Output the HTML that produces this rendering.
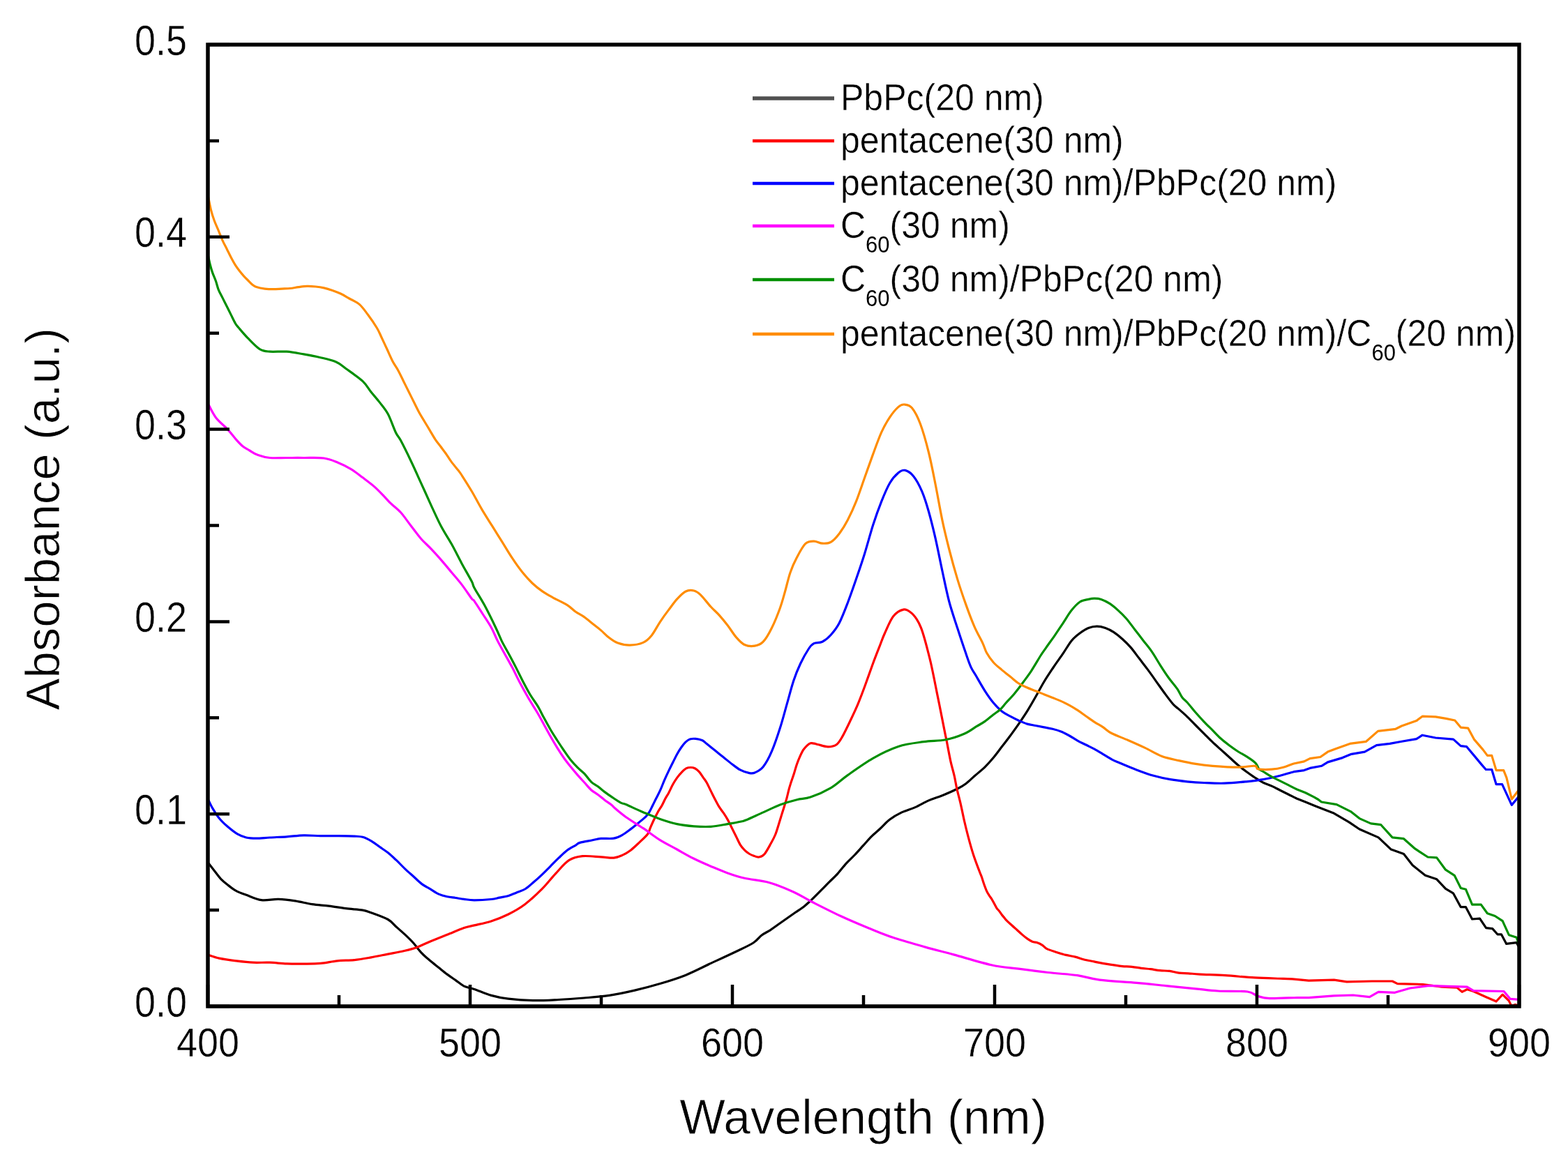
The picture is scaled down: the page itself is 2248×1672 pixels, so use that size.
<!DOCTYPE html>
<html><head><meta charset="utf-8"><title>Absorbance spectra</title>
<style>
html,body{margin:0;padding:0;background:#fff;}
body{width:2248px;height:1672px;overflow:hidden;}
svg{display:block;}
text{font-family:"Liberation Sans",Arial,Helvetica,sans-serif;fill:#000;}
.t{stroke:#fff;stroke-width:0.4px;paint-order:fill stroke;}
.u{stroke:#fff;stroke-width:0.4px;paint-order:fill stroke;}
.w{stroke:#fff;stroke-width:0.8px;paint-order:fill stroke;}
.s{stroke:none;}
</style></head><body>
<svg width="2248" height="1672" viewBox="0 0 2248 1672">
<rect x="0" y="0" width="2248" height="1672" fill="#fff"/>
<defs><clipPath id="pa"><rect x="298" y="64" width="1880" height="1379"/></clipPath></defs>

<g clip-path="url(#pa)" fill="none" stroke-width="3.2" stroke-linejoin="round" stroke-linecap="round">
<path stroke="#000000" d="M298.5,1237.3C299.9,1239.1 304,1244.4 307,1248.2C310,1252 313.4,1256.9 316.6,1260.3C319.8,1263.7 322.7,1266 326.3,1268.8C329.9,1271.6 333.9,1274.9 338.4,1277.3C342.8,1279.7 346.9,1281.1 353,1283.3C359.1,1285.5 367,1289.6 374.7,1290.6C382.4,1291.6 390.9,1289.2 399,1289.4C407.1,1289.6 415.1,1290.6 423.2,1291.8C431.3,1293 439.3,1295.5 447.4,1296.7C455.5,1297.9 463.5,1298.1 471.6,1299.1C479.7,1300.1 487.7,1301.7 495.8,1302.7C503.9,1303.7 514,1304.1 520,1305.1C526,1306.1 526.1,1306.6 532.1,1308.8C538.1,1311 550.2,1315.1 556.3,1318.5C562.3,1321.9 564.3,1325.7 568.4,1329.3C572.5,1332.9 576.5,1336.4 580.6,1340.2C584.7,1344 588.7,1347.8 592.7,1352.3C596.7,1356.8 600.8,1362.7 604.8,1366.9C608.8,1371.2 612.9,1374.4 616.9,1377.8C620.9,1381.2 625,1384.3 629,1387.5C633,1390.7 637.1,1394.1 641.1,1397.1C645.1,1400.1 649.2,1402.8 653.2,1405.6C657.2,1408.4 660.8,1411.9 665.3,1414.1C669.8,1416.2 673.5,1416.3 680,1418.5C686.5,1420.7 696.1,1425.1 704.2,1427.4C712.3,1429.7 718.3,1431 728.4,1432.2C738.5,1433.4 752.6,1434.5 764.7,1434.7C776.8,1434.9 789,1434.1 801.1,1433.5C813.2,1432.9 825.3,1432 837.4,1431C849.5,1430 861.6,1429.2 873.7,1427.4C885.8,1425.6 897.9,1422.9 910,1420.1C922.1,1417.3 934.2,1414.1 946.3,1410.5C958.4,1406.9 970.6,1403.2 982.7,1398.4C994.8,1393.6 1006.9,1387.1 1019,1381.4C1031.1,1375.8 1045.1,1369.4 1055.3,1364.5C1065.5,1359.6 1073.9,1355.9 1080,1352C1086.1,1348.1 1088.1,1344 1092.1,1341C1096.1,1338 1100.2,1336.4 1104.2,1333.8C1108.2,1331.2 1112.3,1328.1 1116.3,1325.3C1120.3,1322.5 1124.4,1319.6 1128.4,1316.8C1132.4,1314 1136.5,1311.1 1140.5,1308.3C1144.5,1305.5 1149,1302.7 1152.6,1299.9C1156.2,1297.1 1158.2,1295.2 1162.3,1291.4C1166.3,1287.6 1172.5,1281.4 1176.9,1276.9C1181.4,1272.5 1185,1268.8 1189,1264.7C1193,1260.7 1197.1,1257 1201.1,1252.6C1205.1,1248.2 1209.2,1242.5 1213.2,1238.1C1217.2,1233.7 1221.3,1230.2 1225.3,1226C1229.3,1221.8 1233.4,1217.1 1237.4,1212.7C1241.4,1208.3 1245.5,1203.4 1249.5,1199.4C1253.5,1195.4 1257.2,1192.6 1261.6,1188.5C1266,1184.4 1270.6,1178.9 1275.8,1175C1281,1171.1 1286.8,1167.8 1292.8,1164.9C1298.8,1162 1305.6,1160.4 1312.1,1157.6C1318.5,1154.8 1325,1150.7 1331.5,1147.9C1338,1145.1 1344,1143.5 1350.9,1140.7C1357.8,1137.9 1367.1,1133.8 1372.7,1131C1378.3,1128.2 1380.8,1126.7 1384.8,1123.7C1388.8,1120.7 1392.4,1117 1396.9,1113C1401.5,1109 1407.5,1104.2 1412.1,1099.8C1416.6,1095.4 1420.2,1091.3 1424.2,1086.5C1428.2,1081.7 1432.3,1076 1436.3,1070.8C1440.3,1065.5 1444.4,1060.5 1448.4,1055C1452.4,1049.5 1456.5,1043.9 1460.5,1038.1C1464.5,1032.2 1468.6,1026.4 1472.6,1019.9C1476.6,1013.4 1480.7,1006.4 1484.7,999.3C1488.8,992.2 1492.6,984.6 1496.9,977.5C1501.2,970.4 1506,963.3 1510.5,956.5C1515,949.7 1519.9,943.2 1524.2,936.9C1528.5,930.6 1532.3,923.6 1536.3,918.7C1540.3,913.9 1544.4,910.8 1548.4,907.8C1552.4,904.8 1556.5,902.1 1560.5,900.5C1564.5,898.9 1568.6,898.1 1572.6,898.1C1576.6,898.1 1580.7,899.1 1584.7,900.5C1588.8,901.9 1592.9,904 1596.9,906.6C1601,909.2 1605,912.7 1609,916.3C1613,919.9 1617.1,923.8 1621.1,928.4C1625.1,933 1629.2,938.9 1633.2,944.1C1637.2,949.4 1641.3,954.5 1645.3,959.9C1649.3,965.3 1653.4,971.1 1657.4,976.8C1661.4,982.4 1665.5,988.3 1669.5,993.8C1673.5,999.2 1678.2,1005.6 1681.6,1009.5C1685,1013.4 1686.6,1013.9 1690,1016.9C1693.4,1019.9 1698.1,1023.9 1702.1,1027.8C1706.1,1031.6 1710.2,1036 1714.2,1040C1718.2,1044 1722.3,1048.1 1726.3,1052.1C1730.3,1056.1 1734.4,1060.4 1738.4,1064.2C1742.4,1068 1746.5,1071.5 1750.5,1075.1C1754.5,1078.7 1758.6,1082.4 1762.6,1086C1766.6,1089.6 1770.7,1093.5 1774.7,1096.9C1778.8,1100.3 1782.9,1103.5 1786.9,1106.5C1791,1109.5 1795,1112.4 1799,1115C1803,1117.6 1807.1,1120.3 1811.1,1122.3C1815.1,1124.3 1819.2,1125.3 1823.2,1127.1C1827.2,1128.9 1831.3,1131.2 1835.3,1133.2C1839.3,1135.2 1843.4,1137.2 1847.4,1139.2C1851.4,1141.2 1855.5,1143.5 1859.5,1145.3L1871.6,1150.1L1883.7,1155L1890,1157.4L1912.6,1166.3L1934.4,1179.1L1949,1189L1976.2,1200.9L1994.4,1218.1L2012.5,1224.5L2025.2,1240.8L2043.4,1255.3L2059.8,1260.8L2072.5,1274.4L2083.4,1280.8L2094.3,1300.7L2101.5,1300.7L2110.6,1318L2121.5,1317.1L2130.6,1330.7L2139.7,1331.6L2146.9,1339.8L2152.4,1339.8L2159.7,1353.4L2174.2,1351.6L2178,1358.9"/>
<path stroke="#ff0000" d="M298.5,1369.3C301.1,1370.1 307.6,1372.7 314.2,1374.1C320.8,1375.5 330.3,1376.8 338.4,1377.8C346.5,1378.8 354.5,1379.8 362.6,1380.2C370.7,1380.6 378.8,1379.9 386.9,1380.2C395,1380.5 402.9,1381.6 411,1381.9C419.1,1382.2 427.2,1382.2 435.3,1382.1C443.4,1382 451.4,1382.1 459.5,1381.4C467.6,1380.7 475.6,1378.6 483.7,1377.8C491.8,1377 499.8,1377.4 507.9,1376.6C516,1375.8 524,1374.3 532.1,1372.9C540.2,1371.5 548.2,1369.7 556.3,1368.1C564.4,1366.5 573.7,1364.8 580.6,1363.2C587.5,1361.6 591.5,1360.6 597.5,1358.4C603.5,1356.2 609.6,1352.9 616.9,1349.9C624.2,1346.9 633,1343.4 641.1,1340.2C649.2,1337 658.8,1332.8 665.3,1330.6C671.8,1328.4 673.5,1328.5 680,1326.9C686.5,1325.3 696.1,1323.5 704.2,1320.9C712.3,1318.3 720.3,1315.2 728.4,1311.2C736.5,1307.2 744.5,1302.8 752.6,1296.7C760.7,1290.7 769.6,1282.2 776.9,1274.9C784.2,1267.6 789.8,1260 796.2,1253.1C802.7,1246.2 809.1,1237.9 815.6,1233.7C822.1,1229.5 827.3,1228.5 835,1227.7C842.7,1226.9 854.1,1228.5 861.6,1228.9C869.1,1229.3 874.9,1230.5 880,1230.1C885.1,1229.7 888.1,1228.2 892.1,1226.4C896.1,1224.6 900.2,1222.2 904.2,1219.2C908.2,1216.2 912.3,1212.1 916.3,1208.3C920.3,1204.5 925.8,1199.6 928.4,1196.2C931,1192.8 930.7,1190.9 932.1,1187.7C933.5,1184.5 935.1,1180.6 936.9,1176.8C938.7,1173 941,1168.3 943,1164.7C945,1161.1 947.2,1158.2 949,1155C950.8,1151.8 952.2,1148.3 953.8,1145.3C955.4,1142.3 956.9,1140.3 958.7,1136.9C960.5,1133.5 962.7,1128.3 964.7,1124.7C966.7,1121.1 968.8,1117.9 970.8,1115.1C972.8,1112.3 974.7,1110 976.9,1107.8C979.1,1105.6 981.9,1102.9 984.1,1101.7C986.3,1100.5 988.2,1100.5 990.2,1100.5C992.2,1100.5 994.2,1100.7 996.2,1101.7C998.2,1102.7 1000.3,1104.4 1002.3,1106.6C1004.3,1108.8 1006.5,1112.5 1008.3,1115.1C1010.1,1117.7 1011.4,1119.1 1013.2,1122.3C1015,1125.5 1017.2,1130.4 1019.2,1134.4C1021.2,1138.4 1023.3,1142.7 1025.3,1146.5C1027.3,1150.3 1029.3,1154.2 1031.3,1157.4C1033.3,1160.6 1035.4,1162.9 1037.4,1165.9C1039.4,1168.9 1041.4,1172 1043.4,1175.6C1045.4,1179.2 1047.5,1183.7 1049.5,1187.7C1051.5,1191.7 1053.5,1195.8 1055.5,1199.8C1057.5,1203.8 1059.6,1208.7 1061.6,1211.9C1063.6,1215.1 1065.6,1217.2 1067.6,1219.2C1069.6,1221.2 1071.6,1222.7 1073.7,1224C1075.8,1225.3 1077.6,1226.2 1080,1227C1082.4,1227.8 1085.5,1229.4 1088.2,1229C1090.9,1228.6 1093.2,1228.1 1096,1224.8C1098.8,1221.5 1102.7,1213.9 1105.3,1209.3C1107.9,1204.7 1109.6,1201.6 1111.5,1197C1113.4,1192.4 1115.1,1186.3 1116.6,1181.5C1118.1,1176.7 1119.3,1172.6 1120.7,1168.1C1122.1,1163.6 1123.7,1158.7 1124.9,1154.7C1126.1,1150.8 1127,1148.2 1128,1144.4C1129,1140.6 1130,1135.9 1131,1132.1C1132,1128.3 1132.9,1125.6 1134.1,1121.8C1135.3,1118 1136.9,1113.7 1138.3,1109.4C1139.7,1105.1 1141,1100 1142.4,1096C1143.8,1092 1145,1089.1 1146.5,1085.7C1148,1082.3 1149.9,1078.1 1151.6,1075.4C1153.3,1072.7 1155.1,1070.9 1156.8,1069.3C1158.5,1067.7 1160.3,1066.2 1162,1065.7C1163.7,1065.2 1165.2,1065.9 1167.1,1066.2C1169,1066.5 1170,1066.9 1173.3,1067.7C1176.6,1068.5 1182.7,1070.8 1187,1070.8C1191.3,1070.8 1195.9,1070.1 1199.3,1067.7C1202.7,1065.3 1204.2,1062.4 1207.6,1056.4C1211,1050.4 1216.1,1039.6 1219.9,1031.7C1223.7,1023.8 1226.8,1017.3 1230.2,1009.1C1233.6,1000.9 1237.1,991.6 1240.5,982.3C1243.9,973 1247.4,962.8 1250.8,953.5C1254.2,944.2 1258.1,934.3 1261.1,926.7C1264,919.1 1265.2,915.1 1268.5,908C1271.8,900.9 1276.2,889.4 1280.7,883.8C1285.2,878.1 1291,875 1295.2,874.1C1299.4,873.2 1302.5,875.9 1305.7,878.2C1308.9,880.5 1311.8,884.2 1314.2,887.8C1316.6,891.4 1318.5,895.4 1320.3,899.9C1322.1,904.4 1323.5,909 1325.1,914.5C1326.7,920 1328.4,926.4 1330,932.6C1331.6,938.9 1333.2,944.9 1334.8,952C1336.4,959.1 1338.2,968.1 1339.6,975C1341,981.9 1342,987.1 1343.2,993.1C1344.4,999.1 1345.7,1005.2 1346.9,1011.3C1348.1,1017.3 1349.1,1022.4 1350.5,1029.4C1351.9,1036.5 1354.2,1048 1355.3,1053.6C1356.4,1059.2 1356.1,1056.8 1357.3,1063C1358.5,1069.2 1360.9,1082.5 1362.7,1090.8C1364.5,1099.1 1366.7,1105.9 1368.2,1112.6C1369.7,1119.3 1370.3,1124.1 1371.8,1130.8C1373.3,1137.5 1375.4,1144.7 1377.2,1152.6C1379,1160.5 1380.9,1170.1 1382.7,1178C1384.5,1185.9 1386,1191.9 1388.1,1199.8C1390.2,1207.7 1392.7,1216.8 1395.4,1225.2C1398.1,1233.6 1402.4,1244.7 1404.4,1250C1406.4,1255.3 1406.2,1254.3 1407.3,1257.3C1408.4,1260.3 1409.7,1264.8 1410.9,1268.2C1412.1,1271.6 1413.3,1274.9 1414.5,1277.6C1415.7,1280.2 1417,1282.2 1418.2,1284.1C1419.4,1286 1420.6,1287.2 1421.8,1289.2C1423,1291.2 1424.2,1293.6 1425.4,1295.8C1426.6,1298 1427.8,1300.5 1429,1302.3C1430.2,1304.1 1431.5,1305 1432.7,1306.6C1433.9,1308.2 1435.1,1310.1 1436.3,1311.7C1437.5,1313.3 1438.7,1314.6 1439.9,1316.1C1441.1,1317.5 1441.8,1318.6 1443.6,1320.4C1445.4,1322.2 1448.4,1324.8 1450.8,1327C1453.2,1329.2 1455.7,1331.3 1458.1,1333.5C1460.5,1335.7 1463,1338 1465.4,1340.1C1467.8,1342.2 1470.2,1344.2 1472.6,1345.9C1475,1347.6 1477.5,1349.2 1479.9,1350.2C1482.3,1351.2 1484.7,1350.9 1487.1,1351.7C1489.5,1352.5 1492.1,1353.8 1494.4,1355.3C1496.7,1356.8 1497.6,1358.9 1501,1360.6C1504.4,1362.3 1510.1,1363.9 1514.6,1365.4C1519.1,1366.9 1523.6,1368.3 1528.1,1369.4C1532.6,1370.5 1537.1,1371 1541.6,1372.1C1546.1,1373.2 1550.6,1375.1 1555.1,1376.2C1559.6,1377.3 1564.1,1378 1568.6,1378.9C1573.1,1379.8 1577.6,1380.8 1582.1,1381.6C1586.6,1382.4 1591.1,1382.9 1595.6,1383.6C1600.1,1384.3 1604.6,1385.1 1609.1,1385.6C1613.6,1386 1618.1,1385.8 1622.6,1386.3C1627.1,1386.8 1631.6,1387.7 1636.1,1388.3C1640.6,1388.9 1645.1,1389.1 1649.6,1389.7C1654.1,1390.3 1658.6,1391.2 1663.1,1391.7C1667.6,1392.2 1672.2,1391.8 1676.7,1392.4C1681.2,1393 1685.7,1394.5 1690.2,1395.1C1694.7,1395.7 1698.7,1395.5 1703.7,1395.8C1708.7,1396.1 1711.2,1396.6 1720,1397.1C1728.8,1397.6 1743.4,1397.9 1756.6,1398.7C1769.8,1399.5 1785.1,1401.1 1799,1401.9C1812.9,1402.7 1830.1,1403 1840,1403.4C1849.9,1403.8 1852.2,1403.8 1858.2,1404.3L1876.3,1406.1L1912.6,1405.2L1930.8,1407.9L1967.1,1407L1996.2,1407L2003.5,1410.6L2039.8,1411.5L2067,1415.2L2088.8,1416.1L2096.1,1422.4L2103.3,1418.8L2112.4,1421.5L2130.6,1429.7L2145.1,1436L2154.2,1426.1L2163.3,1435.1L2166.9,1442.4L2172.4,1440.6L2178,1442.4"/>
<path stroke="#0000ff" d="M298.5,1146.5C299.5,1148.5 301.9,1154.1 304.5,1158.6C307.1,1163 310.6,1168.8 314.2,1173.2C317.8,1177.7 321.9,1181.5 326.3,1185.3C330.7,1189.1 336.4,1193.6 340.8,1196.2C345.2,1198.8 348.6,1200 353,1201C357.4,1202 361.9,1202.2 367.5,1202.2C373.1,1202.2 379.6,1201.4 386.9,1201C394.1,1200.6 402.9,1200.3 411,1199.8C419.1,1199.3 427.2,1198.1 435.3,1197.9C443.4,1197.7 451.4,1198.5 459.5,1198.6C467.6,1198.7 475.6,1198.5 483.7,1198.6C491.8,1198.7 501.8,1198.8 507.9,1199.1C513.9,1199.4 516,1199.2 520,1200.3C524,1201.4 528.1,1203.6 532.1,1205.9C536.1,1208.2 540.2,1211.5 544.2,1214.3C548.2,1217.1 552.3,1219.6 556.3,1222.8C560.3,1226 564.3,1229.9 568.4,1233.7C572.5,1237.5 576.5,1242 580.6,1245.8C584.7,1249.6 588.7,1253.1 592.7,1256.7C596.7,1260.3 600.8,1264.6 604.8,1267.6C608.8,1270.6 612.9,1272.5 616.9,1274.9C620.9,1277.3 625,1280.3 629,1282.1C633,1283.9 637.1,1284.9 641.1,1285.8C645.1,1286.7 649.2,1286.9 653.2,1287.5C657.2,1288.1 660.8,1288.9 665.3,1289.4C669.8,1290 673.5,1290.8 680,1290.8C686.5,1290.8 698.2,1290.1 704.2,1289.5C710.2,1288.9 712.3,1287.9 716.3,1287.1C720.3,1286.3 724.4,1285.9 728.4,1284.7C732.4,1283.5 736.5,1281.5 740.5,1279.9C744.5,1278.3 748.6,1277.4 752.6,1275C756.6,1272.6 760.7,1268.7 764.7,1265.3C768.8,1261.9 772.9,1258.2 776.9,1254.4C780.9,1250.6 785,1246.3 789,1242.3C793,1238.3 797.1,1234 801.1,1230.2C805.1,1226.4 809.2,1222.3 813.2,1219.3C817.2,1216.3 822.3,1213.9 825.3,1212.1C828.3,1210.3 827.3,1209.6 831.3,1208.4C835.3,1207.2 844.5,1205.8 849.5,1204.8C854.5,1203.8 856.5,1202.8 861.6,1202.4C866.7,1202 874.9,1203 880,1202.2C885.1,1201.4 888.1,1199.6 892.1,1197.4C896.1,1195.2 900.2,1191.9 904.2,1188.9C908.2,1185.9 912.7,1182.2 916.3,1179.2C919.9,1176.2 923.6,1173.2 926,1170.8C928.4,1168.4 929.2,1167.3 930.8,1164.7C932.4,1162.1 934.1,1158.2 935.7,1155C937.3,1151.8 938.7,1148.9 940.5,1145.3C942.3,1141.7 944.6,1137.6 946.6,1133.2C948.6,1128.8 950.6,1123.3 952.6,1118.7C954.6,1114.1 956.7,1109.6 958.7,1105.4C960.7,1101.2 962.7,1097.3 964.7,1093.3C966.7,1089.3 968.8,1084.8 970.8,1081.2C972.8,1077.6 974.9,1074.3 976.9,1071.5C978.9,1068.7 980.9,1066.1 982.9,1064.2C984.9,1062.3 986.6,1060.8 989,1060C991.4,1059.2 994.4,1059.1 997.4,1059.4C1000.4,1059.7 1004.5,1060.6 1007.1,1061.8C1009.7,1063 1010.2,1064.2 1013.2,1066.6C1016.2,1069 1021.3,1073.1 1025.3,1076.3C1029.3,1079.5 1033.4,1082.8 1037.4,1086C1041.4,1089.2 1045.5,1092.7 1049.5,1095.7C1053.5,1098.7 1057.6,1102.1 1061.6,1104.2C1065.6,1106.3 1070.3,1107.8 1073.7,1108.4C1077.1,1109 1078.7,1109.5 1082.1,1108C1085.5,1106.5 1090.2,1104.5 1094.2,1099.5C1098.2,1094.5 1102.3,1087 1106.3,1077.7C1110.3,1068.4 1114.8,1055.1 1118.4,1043.8C1122,1032.5 1124.9,1021.2 1128.1,1009.9C1131.3,998.6 1134.6,985.7 1137.8,976C1141,966.3 1143.9,959.5 1147.5,951.8C1151.1,944.1 1156.4,934.9 1159.6,930C1162.8,925.1 1163.7,924.2 1166.9,922.6C1170.1,921 1175,922.2 1179,920.2C1183,918.2 1187.1,915 1191.1,910.5C1195.1,906 1199.2,901.2 1203.2,893.5C1207.2,885.8 1211.3,875 1215.3,864.5C1219.3,854 1223.4,842.3 1227.4,830.6C1231.4,818.9 1235.5,807.1 1239.5,794.2C1243.5,781.3 1247.6,765.6 1251.6,753.1C1255.6,740.6 1259.7,729.3 1263.7,719.2C1267.7,709.1 1271.8,699.4 1275.8,692.5C1279.8,685.6 1284.3,681 1287.9,678C1291.5,675 1294,673.6 1297.6,674.4C1301.2,675.2 1305.7,677.9 1309.7,682.9C1313.7,687.9 1318.2,696.1 1321.8,704.6C1325.4,713.1 1328.3,722.4 1331.5,733.7C1334.7,745 1338,758.3 1341.2,772.4C1344.4,786.5 1347.7,803.6 1350.9,818.5C1354.1,833.4 1357,848.3 1360.6,862C1364.2,875.7 1368.7,888.3 1372.7,900.8C1376.7,913.3 1381.6,927.8 1384.8,937.1C1388,946.4 1389.5,951.1 1392,956.6C1394.5,962.1 1396.7,964.6 1400,970.3C1403.3,976 1408.1,984.5 1412.1,990.8C1416.1,997 1420.2,1002.9 1424.2,1007.8C1428.2,1012.6 1432.3,1016.7 1436.3,1019.9C1440.3,1023.1 1444.4,1025 1448.4,1027.2C1452.4,1029.4 1456.5,1031.4 1460.5,1033.2C1464.5,1035 1468.6,1036.9 1472.6,1038.1C1476.6,1039.3 1480.7,1039.7 1484.7,1040.5C1488.8,1041.3 1492.9,1042.1 1496.9,1042.9C1501,1043.7 1505,1044.3 1509,1045.3C1513,1046.3 1517.1,1047.4 1521.1,1049C1525.1,1050.6 1529.2,1052.8 1533.2,1055C1537.2,1057.2 1541.3,1060.1 1545.3,1062.3C1549.3,1064.5 1553.4,1066.3 1557.4,1068.3C1561.4,1070.3 1565.5,1072.2 1569.5,1074.4C1573.5,1076.6 1577.6,1079.2 1581.6,1081.6C1585.6,1084 1589.8,1086.8 1593.7,1088.9C1597.7,1091 1599.3,1091.5 1605.3,1094C1611.3,1096.5 1621.4,1100.9 1629.5,1103.9C1637.6,1107 1645.6,1110 1653.7,1112.3C1661.8,1114.6 1669.8,1116.3 1677.9,1117.7C1686,1119.1 1694,1120 1702.1,1120.8C1710.2,1121.6 1717.4,1122.1 1726.3,1122.5C1735.2,1122.9 1745.3,1123.5 1755.4,1123.2C1765.5,1122.9 1777.6,1121.7 1786.9,1120.8C1796.2,1119.9 1803,1119.1 1811.1,1117.7C1819.2,1116.3 1828,1114.1 1835.3,1112.3C1842.6,1110.5 1849.1,1108 1854.8,1106.7L1869.7,1104.6L1878.1,1101.4L1895.1,1098.2L1903.6,1092.9L1924.7,1086.6L1937.5,1081.3L1956.5,1078.1L1973.5,1068.6L1992.5,1066.4L2009.5,1063.3L2030.7,1059.7L2039.2,1054.2L2058.2,1058L2083.6,1060.1L2094.2,1069.6L2102.7,1070.7L2113.3,1083.4L2123.9,1096.1L2130.3,1103.5L2138.7,1103.5L2145.1,1124.7L2153.6,1124.7L2167.3,1154.4L2178,1141.6"/>
<path stroke="#ff00ff" d="M298.5,579.3C300.3,582.5 304.8,592.7 309.4,598.7C314,604.8 321.5,610.4 326.3,615.6C331.1,620.8 334.8,626 338.4,630.1C342,634.2 344.9,637.4 348.1,640C351.3,642.6 354.2,643.9 357.8,646C361.4,648.1 365,650.9 369.9,652.6C374.8,654.4 380,655.9 386.9,656.5C393.8,657.1 402.9,656.5 411,656.5C419.1,656.5 426.4,656.4 435.3,656.5C444.2,656.6 456.2,655.9 464.3,657C472.4,658.1 477.2,660.4 483.7,663C490.2,665.6 497.1,669.1 503.1,672.7C509.2,676.3 514.4,680.6 520,684.8C525.6,689 531.8,693.5 537,698.1C542.2,702.7 547.7,708.7 551.5,712.6C555.3,716.5 556.2,718 560,721.7C563.8,725.4 569.7,729.5 574.5,734.8C579.3,740.1 584.1,747.4 589,753.7C593.9,760 598.8,766.9 603.6,772.5C608.5,778.1 613.3,782 618.1,787.1C622.9,792.2 627.8,797.5 632.6,803.1C637.5,808.7 642.4,814.7 647.2,820.5C652.1,826.3 656.9,831.6 661.7,837.9C666.5,844.2 673.2,854.3 676.2,858.3C679.2,862.3 677.4,858.1 680,861.8C682.6,865.5 688,874.1 692.1,880.5C696.2,886.9 700.8,893.5 704.4,900C708,906.5 710.3,912.9 713.6,919.4C716.9,925.9 720.7,932.2 724.2,938.7C727.8,945.2 731.5,951.6 734.9,958.1C738.3,964.6 740.9,970.5 744.6,977.5C748.3,984.5 752.8,992.7 757,1000C761.2,1007.3 766.2,1014.8 770,1021.3C773.8,1027.8 776.5,1032.9 779.7,1038.7C782.9,1044.5 786.2,1050.6 789.4,1056.2C792.6,1061.8 795.9,1067.4 799.1,1072.6C802.3,1077.8 805.5,1082.7 808.7,1087.2C811.9,1091.7 815.2,1095.8 818.4,1099.8C821.6,1103.8 824.9,1107.7 828.1,1111.4C831.3,1115.1 834.6,1118.5 837.8,1122C841,1125.5 844.3,1129.8 847.5,1132.7C850.7,1135.6 854,1137.1 857.2,1139.5C860.4,1141.9 863.7,1144.8 866.9,1147.2C870.1,1149.6 874.1,1152.1 876.5,1154C878.9,1155.9 877.8,1155.8 881.4,1158.8C885,1161.8 891.1,1167.2 897.9,1172C904.7,1176.8 914,1182.3 922.1,1187.7C930.2,1193.1 938.2,1199.5 946.3,1204.6C954.4,1209.6 962.5,1213.5 970.6,1218C978.7,1222.5 986.7,1227.3 994.8,1231.3C1002.9,1235.3 1010.9,1238.8 1019,1242.2C1027.1,1245.6 1035.1,1249.1 1043.2,1251.9C1051.3,1254.8 1057.5,1257 1067.4,1259.3C1077.3,1261.6 1090.7,1262.2 1102.4,1265.5C1114.1,1268.8 1127.1,1274.3 1137.5,1279C1147.9,1283.7 1153.3,1287.8 1164.6,1293.5C1175.9,1299.2 1191.6,1307.2 1205.1,1313.5C1218.6,1319.8 1233,1325.8 1245.6,1331C1258.2,1336.2 1267.2,1340.1 1280.7,1344.6C1294.2,1349.1 1312.2,1354 1326.6,1358.1C1341,1362.1 1351.4,1364.6 1367.2,1368.9C1383,1373.2 1405.7,1380.3 1421.2,1383.7C1436.7,1387.1 1446.5,1387.4 1460,1389.2C1473.5,1391 1488.3,1392.9 1502.4,1394.5C1516.5,1396.1 1532.4,1396.9 1544.7,1398.7C1557,1400.5 1562.4,1403.3 1576.5,1405.1C1590.6,1406.9 1613.6,1407.9 1629.5,1409.3C1645.4,1410.7 1657.8,1412.2 1671.9,1413.6C1686,1415 1701.9,1416.6 1714.2,1417.8C1726.5,1419 1733.6,1420.3 1746,1421C1758.4,1421.7 1778.9,1420.8 1788.4,1422C1797.9,1423.2 1797.9,1426.8 1803.2,1428.4C1808.5,1430 1810.7,1431.2 1820.2,1431.6C1829.7,1431.9 1850.7,1430.7 1860,1430.5L1876.3,1430.6L1912.6,1427.9L1939.9,1427L1963.5,1429.7L1976.2,1422.4L1999.8,1423.3L2021.6,1417L2048.9,1413.4L2076.1,1414.3L2103.3,1415.2L2112.4,1420.6L2156,1421.5L2165.1,1432.4L2178,1433.3"/>
<path stroke="#008f00" d="M298.5,366.9C298.9,368.9 300.1,375 301.1,379C302.1,383 303.3,387.1 304.7,391.1C306.1,395.1 308.1,399.2 309.5,403.2C310.9,407.2 311.6,411.3 313.2,415.3C314.8,419.3 317.2,423.4 319.2,427.4C321.2,431.4 323.3,435.5 325.3,439.5C327.3,443.5 329.3,447.6 331.3,451.6C333.3,455.6 335.6,460.6 337.4,463.7C339.2,466.8 339.2,466.5 342.2,470C345.2,473.5 350.4,479.8 355.4,484.9C360.4,490 367.1,497.4 372.3,500.6C377.6,503.8 380.4,503.6 386.9,504.2C393.3,504.8 402.9,503.6 411,504.2C419.1,504.8 427.2,506.5 435.3,507.9C443.4,509.3 451.8,510.9 459.5,512.7C467.2,514.5 475.2,516.2 481.3,518.8C487.4,521.4 489.4,523.9 495.8,528.5C502.2,533.1 514,541 520,546.6C526,552.2 528.1,557.2 532.1,562.3C536.1,567.3 540.2,571.6 544.2,576.9C548.2,582.1 552.4,586.6 556.3,593.8C560.1,601 564.3,613.7 567.3,620C570.3,626.3 570.9,624.8 574.5,631.6C578.1,638.4 584.1,650.5 589,660.7C593.9,670.9 598.8,682 603.6,692.6C608.5,703.2 613.3,714.2 618.1,724.6C622.9,735 627.8,745.9 632.6,755.1C637.5,764.3 642.4,771.1 647.2,779.8C652.1,788.5 656.9,798.4 661.7,807.4C666.5,816.4 673.2,827.7 676.2,833.6C679.2,839.5 677,837.2 680,842.9C683,848.6 689.4,858.1 694.5,867.6C699.6,877.1 706.6,891.4 710.7,900C714.9,908.6 716.2,912.9 719.4,919.4C722.6,925.9 726.5,932.2 730,938.7C733.5,945.2 736.9,951.6 740.2,958.1C743.5,964.6 746.6,971.2 749.9,977.5C753.2,983.8 756.5,990.1 760,996C763.5,1001.9 767.7,1007.1 771,1012.6C774.3,1018.1 776.6,1023.4 779.7,1029.1C782.8,1034.8 786.2,1041 789.4,1046.5C792.6,1052 795.9,1057 799.1,1062C802.3,1067 805.5,1071.8 808.7,1076.5C811.9,1081.2 815.2,1086.1 818.4,1090.1C821.6,1094.1 824.9,1097.5 828.1,1100.7C831.3,1103.9 834.6,1106 837.8,1109.4C841,1112.8 844.3,1118 847.5,1121.1C850.7,1124.2 854,1125.4 857.2,1127.8C860.4,1130.2 863.7,1133.2 866.9,1135.6C870.1,1138 872.6,1139.8 876.5,1142.4C880.4,1145 886.4,1149.2 890,1151.1C893.6,1153 892.5,1151.5 897.9,1153.8C903.2,1156.1 914,1161.3 922.1,1164.7C930.2,1168.1 938.2,1171.6 946.3,1174.4C954.4,1177.2 962.5,1179.9 970.6,1181.6C978.7,1183.3 986.7,1184.2 994.8,1184.8C1002.9,1185.4 1010.9,1185.8 1019,1185.3C1027.1,1184.8 1035.9,1182.8 1043.2,1181.6C1050.5,1180.4 1058.1,1179 1062.6,1178C1067.1,1177 1064.7,1178 1070,1175.8C1075.3,1173.6 1086.1,1168.5 1094.2,1164.9C1102.3,1161.3 1110.3,1157 1118.4,1154C1126.5,1151 1135.3,1148.5 1142.6,1146.7C1149.9,1144.9 1153.9,1145.9 1162,1143.1C1170.1,1140.3 1182.2,1135 1191.1,1129.8C1200,1124.5 1205.2,1118.7 1215.3,1111.6C1225.4,1104.5 1239.5,1094.3 1251.6,1087.4C1263.7,1080.5 1275.8,1074.4 1287.9,1070.4C1300,1066.5 1312.9,1065.3 1324.2,1063.7C1335.5,1062.1 1346,1062.7 1355.7,1060.8C1365.4,1058.9 1374.9,1055.5 1382.3,1052.3C1389.7,1049.1 1395,1044.7 1400,1041.7C1405,1038.7 1408.1,1037.2 1412.1,1034.4C1416.1,1031.6 1420.6,1027.5 1424.2,1024.7C1427.8,1021.9 1430.9,1020.3 1433.9,1017.5C1436.9,1014.7 1439,1011.6 1442.4,1007.8C1445.8,1004 1450.5,999.4 1454.5,994.5C1458.5,989.6 1462.6,984.2 1466.6,978.7C1470.6,973.2 1474.5,968.2 1478.7,961.8C1482.9,955.3 1488.5,945.6 1492,940C1495.5,934.4 1496.7,933.2 1500,928.4C1503.3,923.6 1508.1,917.2 1512.1,911.4C1516.1,905.5 1520.2,899.3 1524.2,893.3C1528.2,887.2 1532.3,880.1 1536.3,875.1C1540.3,870.1 1544.4,865.6 1548.4,863C1552.4,860.4 1557.1,860.2 1560.5,859.4C1563.9,858.6 1566,858.2 1569,858.2C1572,858.2 1575.1,858.2 1578.7,859.4C1582.3,860.6 1586.8,862.8 1590.8,865.4C1594.8,868 1598.9,871.5 1602.9,875.1C1606.9,878.7 1611,882.6 1615,887.2C1619,891.9 1623.1,897.8 1627.1,903C1631.1,908.2 1635.2,913.5 1639.2,918.7C1643.2,923.9 1647.3,928.5 1651.3,934.4C1655.3,940.2 1659.4,947.5 1663.4,953.8C1667.4,960.1 1671.5,966.4 1675.5,972C1679.5,977.6 1684.5,983 1687.7,987.7C1690.9,992.4 1692.4,996.7 1694.8,1000C1697.2,1003.3 1698.9,1003.7 1702.1,1007.3C1705.3,1010.9 1710.2,1017.2 1714.2,1021.8C1718.2,1026.4 1722.3,1030.9 1726.3,1035.1C1730.3,1039.3 1734.4,1043.2 1738.4,1047.2C1742.4,1051.2 1746.5,1055.7 1750.5,1059.3C1754.5,1062.9 1758.6,1066 1762.6,1069C1766.6,1072 1770.7,1074.9 1774.7,1077.5C1778.8,1080.1 1782.9,1082.1 1786.9,1084.7C1791,1087.3 1796.4,1091 1799,1093.2C1801.6,1095.4 1801.6,1096.5 1802.6,1098.1C1803.6,1099.7 1803.6,1101.5 1805,1102.9C1806.4,1104.3 1808.1,1104.7 1811.1,1106.5C1814.1,1108.3 1819.2,1111.6 1823.2,1113.8C1827.2,1116 1831.3,1117.9 1835.3,1119.9C1839.3,1121.9 1843.4,1123.9 1847.4,1125.9C1851.4,1127.9 1855.5,1130.2 1859.5,1132L1871.6,1136.8L1883.7,1142.9L1890,1146.5L1894.5,1150L1916.3,1153.6L1936.3,1163.6L1949,1173.6L1965.3,1180.9L1979.8,1182.7L1996.2,1200.9L2012.5,1202.7L2028.9,1217.2L2047,1229L2059.8,1229.9L2072.5,1247.2L2085.2,1255.3L2094.3,1273.5L2101.5,1275.3L2110.6,1297.1L2123.3,1297.1L2132.4,1309.8L2143.3,1313.5L2154.2,1320.7L2163.3,1340.7L2174.2,1344.3L2178,1355.2"/>
<path stroke="#ff8c00" d="M298.5,282.1C299.1,285.1 300.9,294.7 302.3,300.3C303.7,305.9 305.3,311 307.1,316C308.9,321 311.2,325.6 313.2,330.5C315.2,335.4 317.2,340.7 319.2,345.1C321.2,349.6 323.3,353.2 325.3,357.2C327.3,361.2 329.3,365.5 331.3,369.3C333.3,373.1 335.4,377 337.4,380.2C339.4,383.4 341.4,386 343.4,388.6C345.4,391.2 347.5,393.7 349.5,395.9C351.5,398.1 353.5,400 355.5,402C357.5,404 359.6,406.4 361.6,408C363.6,409.6 364.6,410.6 367.6,411.6C370.6,412.6 375.6,413.6 379.7,414.1C383.8,414.6 387.8,414.7 391.9,414.7C395.9,414.7 400,414.3 404,414.1C408,413.9 412.1,413.9 416.1,413.5C420.1,413.1 424.2,412.1 428.2,411.6C432.2,411.1 436.3,410.5 440.3,410.4C444.3,410.3 448.4,410.6 452.4,411C456.4,411.4 460.5,412 464.5,412.9C468.5,413.8 472.6,415.1 476.6,416.5C480.6,417.9 484.7,419.4 488.7,421.3C492.7,423.2 496.3,425.5 500.7,428C505.1,430.5 510.8,432.6 515.2,436.4C519.6,440.2 523.1,445.4 527.3,451C531.5,456.6 537,464.7 540.2,470C543.4,475.3 544,477.4 546.5,482.7C549,488 552.6,495.9 555.4,501.8C558.1,507.7 560.5,513.4 563,518.3C565.5,523.2 568.2,526.4 570.7,531C573.2,535.6 575.8,541.1 578.3,546.2C580.8,551.3 583.4,556.4 585.9,561.5C588.4,566.6 591,571.6 593.5,576.7C596,581.8 598.7,587.3 601.2,592C603.8,596.7 606.3,600.5 608.8,604.7C611.3,608.9 613.9,613.2 616.4,617.4C618.9,621.6 621.5,626.3 624,630.1C626.5,633.9 629.2,636.9 631.7,640.3C634.2,643.7 636.8,646.9 639.3,650.5C641.8,654.1 643.9,657.9 646.9,661.9C649.9,665.9 654.6,671.4 657.1,674.6C659.6,677.8 658.5,676 661.7,681C664.9,686 671.4,696.1 676.2,704.3C681.1,712.5 685.9,722.2 690.8,730.4C695.6,738.6 700.5,746 705.3,753.7C710.1,761.5 715,769.1 719.8,776.9C724.6,784.6 729.4,792.9 734.3,800.2C739.1,807.5 744,814.5 748.9,820.5C753.8,826.5 758.6,831.9 763.4,836.5C768.2,841.1 773,844.7 777.9,848.1C782.8,851.5 786.6,853.5 792.5,856.8C798.4,860 807.7,864.2 813.2,867.6C818.7,871 821.3,874.5 825.3,877.3C829.3,880.1 833.4,881.8 837.4,884.6C841.4,887.4 845.5,891 849.5,894.2C853.5,897.4 857.6,900.5 861.6,903.9C865.6,907.3 869.7,911.8 873.7,914.8C877.7,917.8 880.9,920.4 885.8,922.1C890.6,923.8 896.8,925.3 902.8,925.2C908.8,925.1 916.9,923.7 922.1,921.4C927.3,919.1 930.2,916.1 934.2,911.2C938.2,906.3 942.3,897.8 946.3,891.8C950.3,885.8 954.3,880.3 958.4,874.9C962.5,869.5 966.5,863.5 970.6,859.1C974.7,854.7 978.7,850.2 982.7,848.2C986.7,846.2 991.2,846.2 994.8,847C998.4,847.8 1000.5,849.3 1004.5,853.1C1008.5,856.9 1014.6,865.2 1019,870C1023.4,874.8 1027.1,877.6 1031.1,882.1C1035.1,886.6 1039.2,891.5 1043.2,896.7C1047.2,902 1051.3,909 1055.3,913.6C1059.3,918.2 1062.9,922.4 1067.4,924.5C1071.9,926.6 1077.6,926.9 1082.1,926.2C1086.6,925.5 1090.2,924.4 1094.2,920.2C1098.2,916 1102.3,908.9 1106.3,900.8C1110.3,892.7 1115.2,880.6 1118.4,871.7C1121.6,862.8 1123.3,856 1125.7,847.5C1128.1,839 1130.2,829 1133,820.9C1135.8,812.8 1139,806 1142.6,799.1C1146.2,792.2 1150.7,783.5 1154.7,779.7C1158.8,775.9 1162.9,776.2 1166.9,776.1C1171,776 1175,779 1179,779.2C1183,779.4 1187.1,779.6 1191.1,777.3C1195.1,775 1199.2,770.5 1203.2,765.2C1207.2,760 1211.3,753.5 1215.3,745.8C1219.3,738.1 1223.4,729.3 1227.4,719.2C1231.4,709.1 1235.5,696.6 1239.5,685.3C1243.5,674 1247.6,662.3 1251.6,651.4C1255.6,640.5 1259.7,628.8 1263.7,619.9C1267.7,611 1271.8,604.1 1275.8,598.1C1279.8,592.1 1284.5,586.6 1287.9,583.6C1291.3,580.6 1293.2,579.8 1296.4,580C1299.6,580.2 1303.5,580.2 1307.3,584.8C1311.1,589.4 1315.4,597.1 1319.4,607.8C1323.4,618.5 1327.9,634.5 1331.5,649C1335.1,663.5 1338,678.9 1341.2,695C1344.4,711.1 1347.7,730.5 1350.9,745.8C1354.1,761.1 1357,772.9 1360.6,787C1364.2,801.1 1368.7,817.3 1372.7,830.6C1376.7,843.9 1380.8,855.6 1384.8,866.9C1388.8,878.2 1392.9,889.1 1396.9,898.4C1400.9,907.7 1406.1,916.3 1409,922.6C1411.9,928.9 1412,931.5 1414.5,936C1417,940.5 1420.6,945.6 1424.2,949.7C1427.8,953.8 1432.3,957.2 1436.3,960.6C1440.3,964 1444.4,967.1 1448.4,970.3C1452.4,973.5 1456.5,977.4 1460.5,980C1464.5,982.6 1468.6,984.2 1472.6,986C1476.6,987.8 1480.7,989.2 1484.7,990.8C1488.8,992.4 1492.9,994.1 1496.9,995.7C1501,997.3 1505,998.9 1509,1000.5C1513,1002.1 1517.1,1003.6 1521.1,1005.4C1525.1,1007.2 1529.2,1009.2 1533.2,1011.4C1537.2,1013.6 1541.3,1016.1 1545.3,1018.7C1549.3,1021.3 1553.4,1024.4 1557.4,1027.2C1561.4,1030 1565.5,1033 1569.5,1035.6C1573.5,1038.2 1577.6,1040.2 1581.6,1042.9C1585.6,1045.6 1587.7,1048.4 1593.7,1051.5C1599.7,1054.6 1609.4,1058 1617.4,1061.5C1625.4,1065 1633.5,1068.6 1641.6,1072.4C1649.7,1076.2 1657.7,1081.5 1665.8,1084.5C1673.9,1087.5 1681.9,1088.8 1690,1090.6C1698.1,1092.4 1706.1,1094.1 1714.2,1095.4C1722.3,1096.7 1728.4,1097.5 1738.5,1098.3C1748.6,1099.1 1764.7,1100.2 1774.8,1100.2C1784.9,1100.2 1794.2,1097.9 1799,1098.3C1803.8,1098.7 1799.8,1101.9 1803.8,1102.7C1807.8,1103.5 1817.2,1103.6 1823.2,1103.2C1829.2,1102.8 1834.7,1101.7 1840,1100.3C1845.3,1098.9 1849.8,1096.4 1854.8,1095L1869.7,1091.9L1878.1,1087.6L1893,1085.5L1903.6,1078.1L1914.2,1073.9L1935.3,1066.4L1958.6,1063.3L1975.6,1048.4L2001,1045.3L2009.5,1041L2030.7,1033.6L2039.2,1027.2L2058.2,1027.9L2073,1030.4L2085.8,1033L2094.2,1043.1L2104.8,1044.2L2113.3,1060.1L2126,1074.9L2132.4,1083.4L2138.7,1083.4L2145.1,1104.6L2155.7,1104.6L2159.9,1115.2L2167.3,1145.9L2178,1132.1"/>
</g>
<path d="M298,1443H329M298,1305.1H314M298,1167.2H329M298,1029.3H314M298,891.4H329M298,753.5H314M298,615.6H329M298,477.7H314M298,339.8H329M298,201.9H314M298,64H329M298,1443V1412M486,1443V1427M674,1443V1412M862,1443V1427M1050,1443V1412M1238,1443V1427M1426,1443V1412M1614,1443V1427M1802,1443V1412M1990,1443V1427M2178,1443V1412" stroke="#000" stroke-width="4.5" fill="none"/>
<rect x="298" y="64" width="1880" height="1379" fill="none" stroke="#000" stroke-width="5.5"/>
<text transform="translate(268,1457.5) scale(1,1.12)" font-size="54" text-anchor="end" class="t">0.0</text>
<text transform="translate(268,1181.7) scale(1,1.12)" font-size="54" text-anchor="end" class="t">0.1</text>
<text transform="translate(268,905.9) scale(1,1.12)" font-size="54" text-anchor="end" class="t">0.2</text>
<text transform="translate(268,630.1) scale(1,1.12)" font-size="54" text-anchor="end" class="t">0.3</text>
<text transform="translate(268,354.3) scale(1,1.12)" font-size="54" text-anchor="end" class="t">0.4</text>
<text transform="translate(268,78.5) scale(1,1.12)" font-size="54" text-anchor="end" class="t">0.5</text>
<text transform="translate(298,1515) scale(1,1.06)" font-size="54" text-anchor="middle" class="t">400</text>
<text transform="translate(674,1515) scale(1,1.06)" font-size="54" text-anchor="middle" class="t">500</text>
<text transform="translate(1050,1515) scale(1,1.06)" font-size="54" text-anchor="middle" class="t">600</text>
<text transform="translate(1426,1515) scale(1,1.06)" font-size="54" text-anchor="middle" class="t">700</text>
<text transform="translate(1802,1515) scale(1,1.06)" font-size="54" text-anchor="middle" class="t">800</text>
<text transform="translate(2178,1515) scale(1,1.06)" font-size="54" text-anchor="middle" class="t">900</text>
<text x="1237.5" y="1625.5" font-size="69.5" text-anchor="middle" class="w">Wavelength (nm)</text>
<text transform="translate(85.4,744.3) rotate(-90)" font-size="69" text-anchor="middle" class="w">Absorbance (a.u.)</text>
<line x1="1079" y1="141" x2="1196" y2="141" stroke="#505050" stroke-width="5.5"/>
<text transform="translate(1205,158) scale(1,1.06)" font-size="50" class="u">PbPc(20 nm)</text>
<line x1="1079" y1="202" x2="1196" y2="202" stroke="#ff0000" stroke-width="4.5"/>
<text transform="translate(1205,219) scale(1,1.06)" font-size="50" class="u">pentacene(30 nm)</text>
<line x1="1079" y1="263" x2="1196" y2="263" stroke="#0000ff" stroke-width="4.5"/>
<text transform="translate(1205,280) scale(1,1.06)" font-size="50" class="u">pentacene(30 nm)/PbPc(20 nm)</text>
<line x1="1079" y1="324" x2="1196" y2="324" stroke="#ff00ff" stroke-width="4.5"/>
<text transform="translate(1205,341) scale(1,1.06)" font-size="50" class="u">C<tspan font-size="31" dy="19.8" class="s">60</tspan><tspan dy="-19.8">(30 nm)</tspan></text>
<line x1="1079" y1="401" x2="1196" y2="401" stroke="#008f00" stroke-width="4.5"/>
<text transform="translate(1205,418) scale(1,1.06)" font-size="50" class="u">C<tspan font-size="31" dy="19.8" class="s">60</tspan><tspan dy="-19.8">(30 nm)/PbPc(20 nm)</tspan></text>
<line x1="1079" y1="479" x2="1196" y2="479" stroke="#ff8c00" stroke-width="4.5"/>
<text transform="translate(1205,496) scale(1,1.06)" font-size="50" class="u">pentacene(30 nm)/PbPc(20 nm)/C<tspan font-size="31" dy="19.8" class="s">60</tspan><tspan dy="-19.8">(20 nm)</tspan></text>
</svg>
</body></html>
